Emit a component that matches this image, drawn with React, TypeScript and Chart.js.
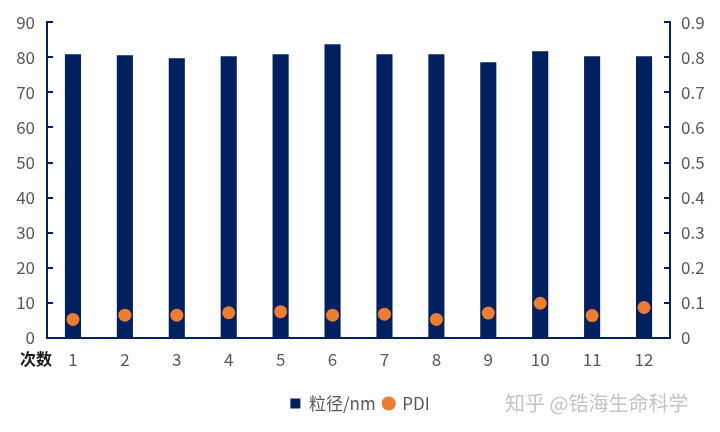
import React, { useEffect, useRef } from "react";
import { Chart, registerables } from "chart.js";

Chart.register(...registerables);

const categories = ["1", "2", "3", "4", "5", "6", "7", "8", "9", "10", "11", "12"];
const particleSize = [80.9, 80.6, 79.7, 80.3, 80.9, 83.7, 80.9, 80.9, 78.6, 81.7, 80.3, 80.3];
const pdi = [0.053, 0.065, 0.065, 0.072, 0.075, 0.065, 0.068, 0.053, 0.071, 0.099, 0.064, 0.087];
const leftTicks = [0, 10, 20, 30, 40, 50, 60, 70, 80, 90];
const rightTicks = [0, 0.1, 0.2, 0.3, 0.4, 0.5, 0.6, 0.7, 0.8, 0.9];
const xAxisTitle = "次数";
const barLabel = "粒径/nm";
const pointLabel = "PDI";
const watermark = "知乎 @锆海生命科学";

const NAVY = "#002060";
const ORANGE = "#ED7D31";
const GRAY = "#595959";
const FONT = "'Noto Sans CJK SC', 'Noto Sans', sans-serif";

const extraText = {
  id: "extraText",
  afterDraw(chart: any) {
    const ctx = chart.ctx;
    const area = chart.chartArea;
    ctx.save();
    // inward tick marks on both value axes
    ctx.strokeStyle = NAVY;
    ctx.lineWidth = 2;
    const yl = chart.scales.y;
    const yr = chart.scales.y1;
    leftTicks.forEach((v) => {
      const py = Math.round(yl.getPixelForValue(v));
      ctx.beginPath();
      ctx.moveTo(area.left, py);
      ctx.lineTo(area.left + 6, py);
      ctx.stroke();
    });
    rightTicks.forEach((v) => {
      const py = Math.round(yr.getPixelForValue(v));
      ctx.beginPath();
      ctx.moveTo(area.right, py);
      ctx.lineTo(area.right - 6, py);
      ctx.stroke();
    });
    ctx.font = `bold 16px ${FONT}`;
    ctx.fillStyle = "#1a1a1a";
    ctx.textAlign = "center";
    ctx.textBaseline = "middle";
    ctx.fillText(xAxisTitle, 36, area.bottom + 21);
    ctx.font = `20px ${FONT}`;
    ctx.fillStyle = "#c4c4c4";
    ctx.textAlign = "left";
    ctx.fillText(watermark, 505, 403);
    ctx.restore();
  },
};

export default function App() {
  const ref = useRef<HTMLCanvasElement | null>(null);
  useEffect(() => {
    if (!ref.current) return;
    const chart = new Chart(ref.current, {
      data: {
        labels: categories,
        datasets: [
          {
            type: "line",
            label: pointLabel,
            data: pdi,
            yAxisID: "y1",
            showLine: false,
            pointRadius: 6.5,
            pointBackgroundColor: ORANGE,
            pointBorderColor: ORANGE,
            pointBorderWidth: 0,
            backgroundColor: ORANGE,
            borderColor: ORANGE,
            order: 0,
          },
          {
            type: "bar",
            label: barLabel,
            data: particleSize,
            yAxisID: "y",
            backgroundColor: NAVY,
            categoryPercentage: 1,
            barPercentage: 0.31,
            order: 1,
          },
        ],
      } as any,
      options: {
        responsive: false,
        animation: false,
        layout: { padding: { top: 16, bottom: 10, left: 0, right: 0 } },
        plugins: {
          tooltip: { enabled: false },
          legend: {
            position: "bottom",
            labels: {
              usePointStyle: true,
              boxWidth: 10,
              boxHeight: 10,
              padding: 8,
              color: GRAY,
              font: { size: 17, family: FONT },
              generateLabels: () => [
                { text: barLabel, fillStyle: NAVY, strokeStyle: NAVY, lineWidth: 0, pointStyle: "rect", datasetIndex: 1, fontColor: GRAY } as any,
                { text: pointLabel, fillStyle: ORANGE, strokeStyle: ORANGE, lineWidth: 0, pointStyle: "circle", datasetIndex: 0, fontColor: GRAY } as any,
              ],
            },
          },
        },
        scales: {
          x: {
            offset: true,
            grid: { display: false, drawTicks: false },
            border: { display: true, color: NAVY, width: 2 },
            ticks: { color: GRAY, font: { size: 17, family: FONT }, padding: 11, maxRotation: 0 },
            afterFit: (s: any) => { s.height = 49; },
          },
          y: {
            position: "left",
            min: 0,
            max: 90,
            afterBuildTicks: (s: any) => { s.ticks = leftTicks.map((v) => ({ value: v })); },
            grid: { display: false, drawTicks: false },
            border: { display: true, color: NAVY, width: 2 },
            ticks: { color: GRAY, font: { size: 17, family: FONT }, padding: 12 },
            afterFit: (s: any) => { s.width = 47; },
          },
          y1: {
            position: "right",
            min: 0,
            max: 0.9,
            afterBuildTicks: (s: any) => { s.ticks = rightTicks.map((v) => ({ value: v })); },
            grid: { display: false, drawTicks: false },
            border: { display: true, color: NAVY, width: 2 },
            ticks: {
              color: GRAY,
              font: { size: 17, family: FONT },
              padding: 11,
              callback: (v: any) => (Number(v) === 0 ? "0" : Number(v).toFixed(1)),
            },
            afterFit: (s: any) => { s.width = 50; },
          },
        },
      } as any,
      plugins: [extraText],
    });
    return () => chart.destroy();
  }, []);
  return (
    <div style={{ position: "absolute", left: 0, top: 0, width: 720, height: 432, background: "#fff" }}>
      <canvas ref={ref} width={720} height={432} />
    </div>
  );
}
